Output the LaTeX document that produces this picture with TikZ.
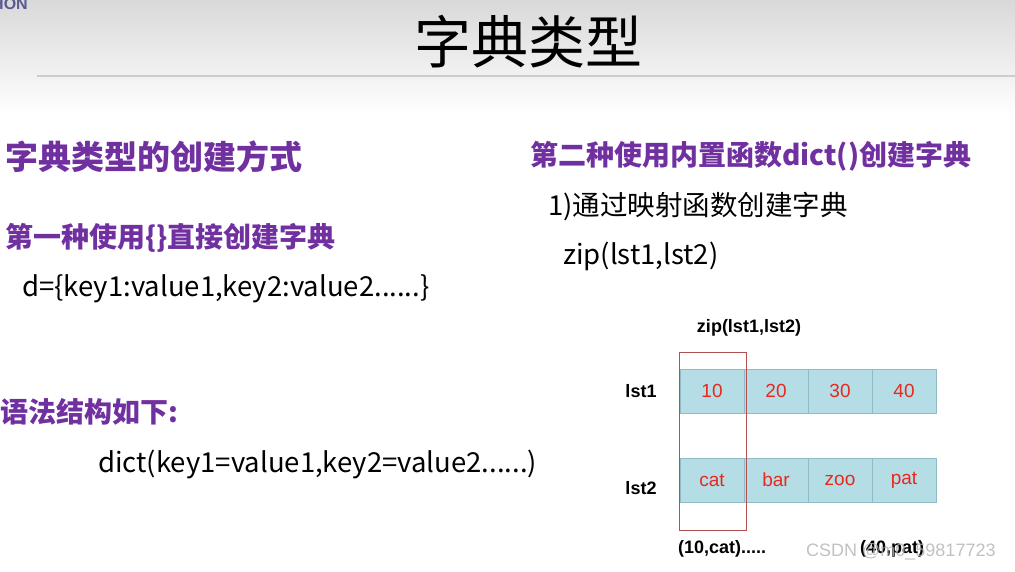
\documentclass[tikz,border=0pt]{standalone}
\usepackage{fontspec}
\setmainfont{Liberation Sans}
\newfontfamily\cjk{Noto Sans CJK SC}
\definecolor{purp}{HTML}{7030A0}
\definecolor{cellf}{HTML}{B4DDE6}
\definecolor{celld}{HTML}{8FBCC6}
\definecolor{redt}{HTML}{E8281E}
\definecolor{boxr}{HTML}{B05050}
\begin{document}
\begin{tikzpicture}[x=1pt,y=-1pt,
  head/.style={anchor=west,inner sep=0,text=purp,font=\cjk\bfseries\fontsize{28}{32}\selectfont},
  body/.style={anchor=west,inner sep=0,font=\cjk\fontsize{27.5}{31}\selectfont},
  cell/.style={draw=celld,fill=cellf,minimum width=64pt,minimum height=44pt,inner sep=0,text=redt,font=\fontsize{19}{22}\selectfont},
  lab/.style={inner sep=0,font=\bfseries\fontsize{18}{22}\selectfont}]
\useasboundingbox (0,0) rectangle (1015,571);
\shade[top color=black!15,bottom color=white] (0,0) rectangle (1015,115);
\node[anchor=west,inner sep=0,text=black!25!blue!30!gray,font=\bfseries\fontsize{16}{18}\selectfont] (hon) at (-8,4) {HON};
\node[inner sep=0,font=\cjk\fontsize{57}{60}\selectfont] (title) at (528,42) {字典类型};
\draw[black!20,line width=1.2pt] (37,76) -- (1015,76);
\node[head,font=\cjk\bfseries\fontsize{33}{36}\selectfont] (h1) at (5,157) {字典类型的创建方式};
\node[head] (h2) at (5,238) {第一种使用\{\}直接创建字典};
\node[body] (t1) at (22,289) {d=\{key1:value1,key2:value2......\}};
\node[head] (h3) at (0,412) {语法结构如下:};
\node[body] (t2) at (98,464) {dict(key1=value1,key2=value2......)};
\node[head] (h4) at (530,156) {第二种使用内置函数dict()创建字典};
\node[body] (t3) at (548,207) {1)通过映射函数创建字典};
\node[body] (t4) at (563,256) {zip(lst1,lst2)};
\node[lab] (zl) at (749,328) {zip(lst1,lst2)};
\node[lab] (l1) at (641,391) {lst1};
\node[lab] (l2) at (641,488) {lst2};
\foreach \t [count=\i] in {10,20,30,40}
  \node[cell] (a\i) at (712+64*\i-64,391) {\t};
\foreach \t [count=\i] in {cat,bar,zoo,pat}
  \node[cell] (b\i) at (712+64*\i-64,480) {\t};
\draw[boxr,line width=1pt] (679,352) rectangle (746,530);
\node[lab,anchor=west] (p1) at (678,549) {(10,cat).....};
\node[lab,anchor=west] (p2) at (860,549) {(40,pat)};
\node[anchor=west,inner sep=0,text=black!30,font=\fontsize{18}{20}\selectfont,opacity=0.8] (wm) at (806,552) {CSDN @m0\_59817723};
\end{tikzpicture}
\end{document}
